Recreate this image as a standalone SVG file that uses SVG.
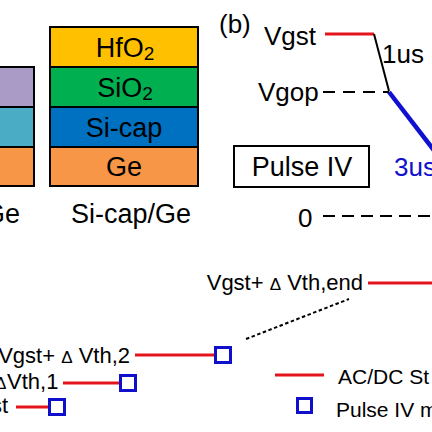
<svg xmlns="http://www.w3.org/2000/svg" width="432" height="432" viewBox="0 0 432 432">
<style>
text{font-family:"Liberation Sans",Arial,sans-serif;fill:#000}
.lay{stroke:#000;stroke-width:2}
.t26{font-size:26px}
.t27{font-size:27px}
.t22{font-size:22px}
.t21{font-size:21px}
.red{stroke:#E3141C;stroke-width:3;fill:none}
.sq{fill:none;stroke:#1010CC;stroke-width:3}
.d{font-size:17px}
</style>
<rect width="432" height="432" fill="#fff"/>
<g id="stack-left">
<rect class="lay" x="-4" y="67" width="38" height="40" fill="#A99BC6"/>
<rect class="lay" x="-4" y="107" width="38" height="40" fill="#4BACC6"/>
<rect class="lay" x="-4" y="147" width="38" height="39" fill="#F79646"/>
<text class="t27" x="20" y="223" text-anchor="end">Ge</text>
</g>
<g id="stack-right">
<rect class="lay" x="50" y="27" width="148" height="40" fill="#FFC000"/>
<rect class="lay" x="50" y="67" width="148" height="40" fill="#00B050"/>
<rect class="lay" x="50" y="107" width="148" height="40" fill="#0070C0"/>
<rect class="lay" x="50" y="147" width="148" height="39" fill="#F79646"/>
<text class="t27" x="125" y="57" text-anchor="middle">HfO<tspan font-size="19" dy="3">2</tspan></text>
<text class="t27" x="125" y="97" text-anchor="middle">SiO<tspan font-size="19" dy="3">2</tspan></text>
<text class="t27" x="124" y="137" text-anchor="middle">Si-cap</text>
<text class="t27" x="124" y="176" text-anchor="middle">Ge</text>
<text class="t27" x="131" y="223" text-anchor="middle">Si-cap/Ge</text>
</g>
<g id="panel-b-labels">
<text class="t26" x="219" y="33">(b)</text>
<text class="t26" x="264" y="45">Vgst</text>
<text class="t26" x="382" y="63">1us</text>
<text class="t26" x="258" y="101">Vgop</text>
<text class="t26" x="298" y="227">0</text>
<text class="t26" x="394" y="176" style="fill:#1010D0">3us</text>
</g>
<g id="pulse-iv-box">
<rect x="234" y="146" width="135" height="41" fill="none" stroke="#000" stroke-width="2"/>
<text class="t27" x="302" y="176" text-anchor="middle">Pulse IV</text>
</g>
<g id="connectors">
<line class="red" x1="325" y1="34" x2="374" y2="34" stroke-width="2.5"/>
<line x1="374" y1="34" x2="389" y2="91" stroke="#000" stroke-width="2"/>
<line x1="389" y1="92" x2="436" y2="153" stroke="#1010D0" stroke-width="4.5"/>
<line x1="323" y1="92" x2="389" y2="92" stroke="#000" stroke-width="2" stroke-dasharray="12 8"/>
<line x1="323" y1="216" x2="432" y2="216" stroke="#000" stroke-width="2" stroke-dasharray="12 7"/>
<line class="red" x1="368" y1="283" x2="432" y2="283"/>
<line class="red" x1="135" y1="355" x2="214" y2="355"/>
<line class="red" x1="63" y1="383" x2="120" y2="383"/>
<line class="red" x1="16" y1="407" x2="49" y2="407"/>
<line x1="246" y1="339" x2="349" y2="299" stroke="#000" stroke-width="2" stroke-dasharray="3.5 2.5"/>
<line class="red" x1="275" y1="375" x2="324" y2="375"/>
</g>
<g id="level-end"><text class="t22" x="363" y="290" text-anchor="end">Vgst+ <tspan class="d">Δ</tspan> Vth,end</text></g>
<g id="level-2">
<text class="t22" x="130" y="363" text-anchor="end">Vgst+ <tspan class="d">Δ</tspan> Vth,2</text>
<rect class="sq" x="215.5" y="347.5" width="15" height="15"/>
</g>
<g id="level-1">
<text class="t22" x="-5" y="389"><tspan class="d">Δ</tspan><tspan x="7">Vth,1</tspan></text>
<rect class="sq" x="120.5" y="375.5" width="15" height="15"/>
</g>
<g id="level-0">
<text class="t22" x="8" y="413" text-anchor="end">st</text>
<rect class="sq" x="49.5" y="399.5" width="15" height="15"/>
</g>
<g id="legend">
<text class="t21" x="338" y="384">AC/DC St</text>
<rect class="sq" x="297.5" y="398.5" width="14" height="14"/>
<text class="t21" x="336" y="417">Pulse IV m</text>
</g>
</svg>
